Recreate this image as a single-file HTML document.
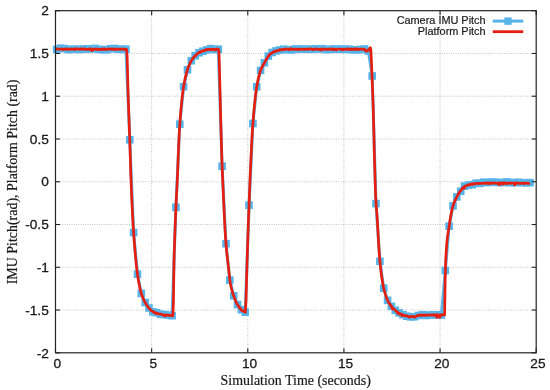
<!DOCTYPE html>
<html><head><meta charset="utf-8"><title>Pitch plot</title>
<style>
html,body{margin:0;padding:0;background:#fff;}
svg{display:block;}
.tk{font-family:"Liberation Sans",Arial,Helvetica,sans-serif;font-size:13.7px;fill:#1a1a1a;stroke:#1a1a1a;stroke-width:0.3px;}
.lg{font-family:"Liberation Sans",Arial,Helvetica,sans-serif;font-size:10.9px;fill:#1a1a1a;stroke:#1a1a1a;stroke-width:0.2px;}
.ax{font-family:"Liberation Serif","Times New Roman",Times,serif;font-size:13.95px;fill:#1a1a1a;stroke:#1a1a1a;stroke-width:0.2px;}
</style></head>
<body>
<svg width="550" height="390" viewBox="0 0 550 390">
<rect width="550" height="390" fill="#ffffff"/>
<g stroke="#b0b0b0" stroke-width="0.9" stroke-dasharray="0.8 1.5" fill="none"><line x1="151.64" y1="10.7" x2="151.64" y2="352.8"/><line x1="247.78" y1="10.7" x2="247.78" y2="352.8"/><line x1="343.92" y1="10.7" x2="343.92" y2="352.8"/><line x1="440.06" y1="10.7" x2="440.06" y2="352.8"/><line x1="55.5" y1="310.04" x2="536.2" y2="310.04"/><line x1="55.5" y1="267.28" x2="536.2" y2="267.28"/><line x1="55.5" y1="224.51" x2="536.2" y2="224.51"/><line x1="55.5" y1="181.75" x2="536.2" y2="181.75"/><line x1="55.5" y1="138.99" x2="536.2" y2="138.99"/><line x1="55.5" y1="96.23" x2="536.2" y2="96.23"/><line x1="55.5" y1="53.46" x2="536.2" y2="53.46"/></g>
<g fill="#56b4e9" stroke="none"><rect x="52.9" y="45.7" width="7.6" height="7.6"/><rect x="56.7" y="44.4" width="7.6" height="7.6"/><rect x="60.5" y="44.8" width="7.6" height="7.6"/><rect x="64.4" y="45.7" width="7.6" height="7.6"/><rect x="68.2" y="45.6" width="7.6" height="7.6"/><rect x="72.1" y="45.4" width="7.6" height="7.6"/><rect x="75.9" y="45.7" width="7.6" height="7.6"/><rect x="79.8" y="45.1" width="7.6" height="7.6"/><rect x="83.6" y="45.2" width="7.6" height="7.6"/><rect x="87.5" y="45.1" width="7.6" height="7.6"/><rect x="91.3" y="44.6" width="7.6" height="7.6"/><rect x="95.2" y="45.5" width="7.6" height="7.6"/><rect x="99.0" y="45.9" width="7.6" height="7.6"/><rect x="102.9" y="45.8" width="7.6" height="7.6"/><rect x="106.7" y="44.9" width="7.6" height="7.6"/><rect x="110.6" y="44.7" width="7.6" height="7.6"/><rect x="114.4" y="45.4" width="7.6" height="7.6"/><rect x="118.3" y="45.6" width="7.6" height="7.6"/><rect x="122.1" y="45.4" width="7.6" height="7.6"/><rect x="126.0" y="136.0" width="7.6" height="7.6"/><rect x="129.8" y="228.7" width="7.6" height="7.6"/><rect x="133.7" y="270.4" width="7.6" height="7.6"/><rect x="137.5" y="289.6" width="7.6" height="7.6"/><rect x="141.4" y="298.7" width="7.6" height="7.6"/><rect x="145.2" y="304.2" width="7.6" height="7.6"/><rect x="149.0" y="308.1" width="7.6" height="7.6"/><rect x="152.9" y="308.9" width="7.6" height="7.6"/><rect x="156.7" y="310.5" width="7.6" height="7.6"/><rect x="160.6" y="310.8" width="7.6" height="7.6"/><rect x="164.4" y="311.3" width="7.6" height="7.6"/><rect x="168.3" y="311.9" width="7.6" height="7.6"/><rect x="172.1" y="203.5" width="7.6" height="7.6"/><rect x="176.0" y="120.4" width="7.6" height="7.6"/><rect x="179.8" y="82.8" width="7.6" height="7.6"/><rect x="183.7" y="66.0" width="7.6" height="7.6"/><rect x="187.5" y="56.9" width="7.6" height="7.6"/><rect x="191.4" y="51.9" width="7.6" height="7.6"/><rect x="195.2" y="48.9" width="7.6" height="7.6"/><rect x="199.1" y="47.4" width="7.6" height="7.6"/><rect x="202.9" y="46.1" width="7.6" height="7.6"/><rect x="206.8" y="44.8" width="7.6" height="7.6"/><rect x="210.6" y="45.8" width="7.6" height="7.6"/><rect x="214.5" y="45.4" width="7.6" height="7.6"/><rect x="218.3" y="162.4" width="7.6" height="7.6"/><rect x="222.2" y="239.9" width="7.6" height="7.6"/><rect x="226.0" y="276.3" width="7.6" height="7.6"/><rect x="229.9" y="292.0" width="7.6" height="7.6"/><rect x="233.7" y="300.8" width="7.6" height="7.6"/><rect x="237.6" y="305.9" width="7.6" height="7.6"/><rect x="241.4" y="308.4" width="7.6" height="7.6"/><rect x="245.2" y="201.3" width="7.6" height="7.6"/><rect x="249.1" y="119.7" width="7.6" height="7.6"/><rect x="252.9" y="83.0" width="7.6" height="7.6"/><rect x="256.8" y="66.6" width="7.6" height="7.6"/><rect x="260.6" y="59.0" width="7.6" height="7.6"/><rect x="264.5" y="52.3" width="7.6" height="7.6"/><rect x="268.3" y="48.7" width="7.6" height="7.6"/><rect x="272.2" y="47.1" width="7.6" height="7.6"/><rect x="276.0" y="46.2" width="7.6" height="7.6"/><rect x="279.9" y="45.4" width="7.6" height="7.6"/><rect x="283.7" y="45.8" width="7.6" height="7.6"/><rect x="287.6" y="46.1" width="7.6" height="7.6"/><rect x="291.4" y="45.2" width="7.6" height="7.6"/><rect x="295.3" y="45.3" width="7.6" height="7.6"/><rect x="299.1" y="45.4" width="7.6" height="7.6"/><rect x="303.0" y="45.4" width="7.6" height="7.6"/><rect x="306.8" y="45.5" width="7.6" height="7.6"/><rect x="310.7" y="45.0" width="7.6" height="7.6"/><rect x="314.5" y="45.2" width="7.6" height="7.6"/><rect x="318.4" y="44.9" width="7.6" height="7.6"/><rect x="322.2" y="45.7" width="7.6" height="7.6"/><rect x="326.1" y="45.6" width="7.6" height="7.6"/><rect x="329.9" y="45.2" width="7.6" height="7.6"/><rect x="333.8" y="45.5" width="7.6" height="7.6"/><rect x="337.6" y="45.3" width="7.6" height="7.6"/><rect x="341.4" y="45.6" width="7.6" height="7.6"/><rect x="345.3" y="45.4" width="7.6" height="7.6"/><rect x="349.1" y="46.0" width="7.6" height="7.6"/><rect x="353.0" y="45.9" width="7.6" height="7.6"/><rect x="356.8" y="45.7" width="7.6" height="7.6"/><rect x="360.7" y="45.2" width="7.6" height="7.6"/><rect x="364.5" y="47.2" width="7.6" height="7.6"/><rect x="368.4" y="72.2" width="7.6" height="7.6"/><rect x="372.2" y="199.8" width="7.6" height="7.6"/><rect x="376.1" y="257.5" width="7.6" height="7.6"/><rect x="379.9" y="284.4" width="7.6" height="7.6"/><rect x="383.8" y="296.5" width="7.6" height="7.6"/><rect x="387.6" y="302.5" width="7.6" height="7.6"/><rect x="391.5" y="306.5" width="7.6" height="7.6"/><rect x="395.3" y="309.1" width="7.6" height="7.6"/><rect x="399.2" y="310.9" width="7.6" height="7.6"/><rect x="403.0" y="312.4" width="7.6" height="7.6"/><rect x="406.9" y="313.1" width="7.6" height="7.6"/><rect x="410.7" y="312.9" width="7.6" height="7.6"/><rect x="414.6" y="311.7" width="7.6" height="7.6"/><rect x="418.4" y="310.9" width="7.6" height="7.6"/><rect x="422.3" y="311.7" width="7.6" height="7.6"/><rect x="426.1" y="311.2" width="7.6" height="7.6"/><rect x="430.0" y="311.0" width="7.6" height="7.6"/><rect x="433.8" y="311.0" width="7.6" height="7.6"/><rect x="437.6" y="311.2" width="7.6" height="7.6"/><rect x="441.5" y="266.7" width="7.6" height="7.6"/><rect x="445.3" y="222.4" width="7.6" height="7.6"/><rect x="449.2" y="202.1" width="7.6" height="7.6"/><rect x="453.0" y="193.1" width="7.6" height="7.6"/><rect x="456.9" y="187.5" width="7.6" height="7.6"/><rect x="460.7" y="182.3" width="7.6" height="7.6"/><rect x="464.6" y="181.3" width="7.6" height="7.6"/><rect x="468.4" y="180.9" width="7.6" height="7.6"/><rect x="472.3" y="179.4" width="7.6" height="7.6"/><rect x="476.1" y="179.6" width="7.6" height="7.6"/><rect x="480.0" y="178.4" width="7.6" height="7.6"/><rect x="483.8" y="178.8" width="7.6" height="7.6"/><rect x="487.7" y="178.3" width="7.6" height="7.6"/><rect x="491.5" y="178.5" width="7.6" height="7.6"/><rect x="495.4" y="178.7" width="7.6" height="7.6"/><rect x="499.2" y="178.8" width="7.6" height="7.6"/><rect x="503.1" y="178.1" width="7.6" height="7.6"/><rect x="506.9" y="178.9" width="7.6" height="7.6"/><rect x="510.8" y="178.8" width="7.6" height="7.6"/><rect x="514.6" y="178.5" width="7.6" height="7.6"/><rect x="518.5" y="178.9" width="7.6" height="7.6"/><rect x="522.3" y="179.0" width="7.6" height="7.6"/><rect x="526.2" y="178.8" width="7.6" height="7.6"/></g>
<polyline points="56.6,49.5 60.5,48.2 64.3,48.6 68.2,49.5 72.0,49.4 75.9,49.2 79.7,49.5 83.6,48.9 87.4,49.0 91.3,48.9 95.1,48.4 99.0,49.3 102.8,49.7 106.7,49.6 110.5,48.7 114.4,48.5 118.2,49.2 122.1,49.4 125.9,49.2 129.8,139.8 133.6,232.5 137.5,274.2 141.3,293.4 145.2,302.5 149.0,308.0 152.8,311.9 156.7,312.7 160.5,314.3 164.4,314.6 168.2,315.1 172.1,315.7 175.9,207.3 179.8,124.2 183.6,86.6 187.5,69.8 191.3,60.7 195.2,55.7 199.0,52.7 202.9,51.2 206.7,49.9 210.6,48.6 214.4,49.6 218.3,49.2 222.1,166.2 226.0,243.7 229.8,280.1 233.7,295.8 237.5,304.6 241.4,309.7 245.2,312.2 249.1,205.1 252.9,123.5 256.7,86.8 260.6,70.4 264.4,62.8 268.3,56.1 272.1,52.5 276.0,50.9 279.8,50.0 283.7,49.2 287.5,49.6 291.4,49.9 295.2,49.0 299.1,49.1 302.9,49.2 306.8,49.2 310.6,49.3 314.5,48.8 318.3,49.0 322.2,48.7 326.0,49.5 329.9,49.4 333.7,49.0 337.6,49.3 341.4,49.1 345.2,49.4 349.1,49.2 352.9,49.8 356.8,49.7 360.6,49.5 364.5,49.0 368.3,51.0 372.2,76.0 376.0,203.6 379.9,261.3 383.7,288.2 387.6,300.3 391.4,306.3 395.3,310.3 399.1,312.9 403.0,314.7 406.8,316.2 410.7,316.9 414.5,316.7 418.4,315.5 422.2,314.7 426.1,315.5 429.9,315.0 433.8,314.8 437.6,314.8 441.4,315.0 445.3,270.5 449.1,226.2 453.0,205.9 456.8,196.9 460.7,191.3 464.5,186.1 468.4,185.1 472.2,184.7 476.1,183.2 479.9,183.4 483.8,182.2 487.6,182.6 491.5,182.1 495.3,182.3 499.2,182.5 503.0,182.6 506.9,181.9 510.7,182.7 514.6,182.6 518.4,182.3 522.3,182.7 526.1,182.8 530.0,182.6" fill="none" stroke="#56b4e9" stroke-width="3" stroke-linejoin="round"/>
<polyline points="55.8,49.6 56.4,49.3 57.0,49.2 57.6,48.8 58.2,49.1 58.8,49.1 59.4,49.2 60.0,49.1 60.6,49.2 61.2,49.1 61.8,48.9 62.4,49.4 63.0,49.4 63.6,49.6 64.2,49.2 64.8,49.1 65.4,49.1 66.0,48.9 66.6,49.4 67.2,49.0 67.8,48.9 68.4,49.2 69.0,49.5 69.6,49.3 70.2,49.0 70.8,49.0 71.4,49.3 72.0,49.2 72.6,49.0 73.2,49.1 73.8,49.4 74.4,49.6 75.0,48.9 75.6,49.1 76.2,49.0 76.8,48.7 77.4,49.0 78.0,49.0 78.6,49.4 79.2,49.2 79.8,48.8 80.4,49.3 81.0,49.1 81.6,48.8 82.2,49.1 82.8,49.1 83.4,49.0 84.0,49.2 84.6,48.7 85.2,49.1 85.8,49.4 86.4,49.4 87.0,49.4 87.6,49.4 88.2,49.5 88.8,49.0 89.4,49.4 90.0,48.8 90.6,49.1 91.2,48.8 91.8,50.6 92.4,49.5 93.0,49.2 93.6,49.6 94.2,49.1 94.8,49.2 95.4,49.2 96.0,49.0 96.6,49.3 97.2,49.6 97.8,49.0 98.4,49.4 99.0,49.2 99.6,49.6 100.2,49.3 100.8,49.3 101.4,49.3 102.0,49.3 102.6,48.9 103.2,49.5 103.8,48.9 104.4,49.3 105.0,49.3 105.6,49.0 106.2,49.2 106.8,49.5 107.4,49.2 108.0,49.2 108.6,48.6 109.2,49.0 109.8,49.1 110.4,49.1 111.0,49.0 111.6,49.3 112.2,49.1 112.8,49.2 113.4,49.3 114.0,49.0 114.6,49.1 115.2,49.7 115.8,49.4 116.4,48.9 117.0,49.2 117.6,49.3 118.2,49.5 118.8,49.2 119.4,49.1 120.0,49.0 120.6,49.3 121.2,49.3 121.8,49.1 122.4,49.2 123.0,49.1 123.6,49.4 124.2,49.0 124.8,49.7 125.4,49.4 126.0,49.3 126.6,49.4 127.2,57.4 127.8,83.3 128.4,101.8 129.0,118.9 129.6,135.3 130.2,154.0 130.8,174.4 131.4,189.9 132.0,203.6 132.6,215.7 133.2,226.3 133.8,235.2 134.4,243.4 135.0,250.8 135.6,257.7 136.2,263.8 136.8,269.2 137.4,273.8 138.0,277.8 138.6,281.4 139.2,284.6 139.8,287.6 140.4,290.1 141.0,292.4 141.6,294.3 142.2,296.1 142.8,297.6 143.4,299.0 144.0,300.3 144.6,301.5 145.2,302.6 145.8,303.6 146.4,304.6 147.0,305.6 147.6,306.5 148.2,307.3 148.8,308.1 149.4,308.5 150.0,309.2 150.6,309.8 151.2,310.6 151.8,310.6 152.4,311.3 153.0,311.6 153.6,311.7 154.2,312.9 154.8,312.5 155.4,312.5 156.0,313.4 156.6,313.0 157.2,313.5 157.8,313.8 158.4,313.7 159.0,313.9 159.6,314.0 160.2,314.2 160.8,314.0 161.4,314.2 162.0,314.5 162.6,314.9 163.2,314.9 163.8,315.5 164.4,315.1 165.0,315.9 165.6,315.5 166.2,314.7 166.8,315.0 167.4,315.0 168.0,315.4 168.6,315.5 169.2,315.3 169.8,315.4 170.4,315.2 171.0,315.6 171.6,315.7 172.2,315.8 172.8,315.8 173.4,303.9 174.0,261.3 174.6,241.2 175.2,225.0 175.8,210.3 176.4,197.8 177.0,186.3 177.6,172.9 178.2,157.0 178.8,142.1 179.4,130.3 180.0,121.4 180.6,113.9 181.2,107.1 181.8,100.9 182.4,95.5 183.0,90.8 183.6,86.8 184.2,83.3 184.8,80.2 185.4,77.4 186.0,74.9 186.6,72.7 187.2,70.6 187.8,68.8 188.4,67.1 189.0,65.6 189.6,64.2 190.2,62.9 190.8,61.7 191.4,60.6 192.0,59.7 192.6,58.9 193.2,57.9 193.8,57.4 194.4,56.6 195.0,55.7 195.6,55.3 196.2,55.3 196.8,54.2 197.4,53.7 198.0,53.1 198.6,52.8 199.2,52.1 199.8,52.0 200.4,52.3 201.0,51.7 201.6,51.3 202.2,51.2 202.8,51.1 203.4,50.7 204.0,50.8 204.6,50.5 205.2,50.1 205.8,50.3 206.4,49.3 207.0,49.6 207.6,49.7 208.2,49.4 208.8,49.4 209.4,49.3 210.0,49.2 210.6,49.9 211.2,49.4 211.8,49.2 212.4,49.5 213.0,49.2 213.6,49.9 214.2,49.3 214.8,49.6 215.4,50.0 216.0,49.4 216.6,49.2 217.2,48.9 217.8,49.4 218.4,49.2 219.0,52.0 219.6,75.0 220.2,98.4 220.8,121.4 221.4,143.3 222.0,163.0 222.6,177.3 223.2,191.0 223.8,204.6 224.4,217.3 225.0,228.6 225.6,238.7 226.2,246.6 226.8,252.8 227.4,258.2 228.0,263.2 228.6,268.3 229.2,274.1 229.8,280.0 230.4,283.5 231.0,286.5 231.6,289.0 232.2,291.2 232.8,293.2 233.4,295.0 234.0,296.8 234.6,298.4 235.2,299.9 235.8,301.3 236.4,302.6 237.0,303.7 237.6,304.8 238.2,305.8 238.8,306.4 239.4,307.5 240.0,308.4 240.6,308.9 241.2,310.0 241.8,310.2 242.4,310.7 243.0,310.8 243.6,311.4 244.2,311.7 244.8,311.5 245.4,312.3 246.0,300.0 246.6,279.0 247.2,258.8 247.8,239.8 248.4,222.2 249.0,206.4 249.6,190.2 250.2,175.0 250.8,161.7 251.4,149.0 252.0,137.5 252.6,127.7 253.2,119.7 253.8,112.5 254.4,106.0 255.0,100.1 255.6,94.9 256.2,90.3 256.8,86.5 257.4,83.2 258.0,80.1 258.6,77.4 259.2,75.0 259.8,72.8 260.4,71.0 261.0,69.4 261.6,68.0 262.2,66.8 262.8,65.7 263.4,64.6 264.0,63.6 264.6,62.5 265.2,61.4 265.8,60.3 266.4,59.2 267.0,58.2 267.6,57.4 268.2,56.4 268.8,55.8 269.4,54.6 270.0,54.2 270.6,53.8 271.2,53.5 271.8,53.0 272.4,52.9 273.0,52.1 273.6,51.9 274.2,51.8 274.8,51.4 275.4,51.3 276.0,50.9 276.6,51.1 277.2,50.6 277.8,50.7 278.4,50.3 279.0,50.5 279.6,49.7 280.2,50.0 280.8,49.7 281.4,49.8 282.0,49.9 282.6,49.4 283.2,49.3 283.8,49.3 284.4,49.5 285.0,48.9 285.6,49.3 286.2,49.0 286.8,49.0 287.4,49.1 288.0,49.3 288.6,49.1 289.2,49.8 289.8,49.2 290.4,49.1 291.0,48.6 291.6,49.1 292.2,49.2 292.8,49.4 293.4,49.7 294.0,49.3 294.6,49.2 295.2,49.0 295.8,49.2 296.4,49.4 297.0,49.5 297.6,49.0 298.2,49.3 298.8,49.4 299.4,49.6 300.0,49.3 300.6,49.1 301.2,49.0 301.8,49.1 302.4,49.1 303.0,49.4 303.6,49.4 304.2,49.4 304.8,49.5 305.4,49.1 306.0,49.3 306.6,49.1 307.2,49.2 307.8,49.5 308.4,49.2 309.0,48.8 309.6,49.1 310.2,49.0 310.8,48.9 311.4,49.0 312.0,49.4 312.6,49.6 313.2,49.1 313.8,49.4 314.4,49.5 315.0,48.9 315.6,49.2 316.2,49.2 316.8,49.2 317.4,48.8 318.0,49.1 318.6,49.4 319.2,49.5 319.8,49.6 320.4,49.1 321.0,50.2 321.6,49.3 322.2,48.9 322.8,49.4 323.4,49.1 324.0,49.3 324.6,49.2 325.2,49.5 325.8,49.3 326.4,49.1 327.0,49.4 327.6,49.3 328.2,49.1 328.8,49.5 329.4,49.1 330.0,49.1 330.6,49.1 331.2,48.9 331.8,49.1 332.4,49.6 333.0,49.0 333.6,49.2 334.2,49.8 334.8,49.1 335.4,49.5 336.0,49.4 336.6,49.8 337.2,49.2 337.8,49.0 338.4,49.0 339.0,49.0 339.6,49.0 340.2,49.3 340.8,49.3 341.4,49.3 342.0,49.2 342.6,49.9 343.2,49.2 343.8,49.0 344.4,49.4 345.0,49.3 345.6,49.4 346.2,49.1 346.8,48.8 347.4,49.4 348.0,49.5 348.6,48.9 349.2,49.2 349.8,49.5 350.4,49.0 351.0,49.6 351.6,49.1 352.2,49.0 352.8,49.5 353.4,49.3 354.0,49.1 354.6,49.4 355.2,48.8 355.8,49.6 356.4,49.0 357.0,49.3 357.6,49.1 358.2,49.3 358.8,49.4 359.4,49.0 360.0,49.4 360.6,49.1 361.2,49.0 361.8,49.2 362.4,49.0 363.0,49.0 363.6,49.4 364.2,49.2 364.8,49.6 365.4,50.4 366.0,51.2 366.6,51.1 367.2,50.9 367.8,50.4 368.4,49.7 369.0,50.1 369.6,48.8 370.2,47.7 370.8,49.1 371.4,60.0 372.0,76.0 372.6,90.8 373.2,106.9 373.8,130.1 374.4,156.4 375.0,177.3 375.6,195.5 376.2,206.0 376.8,212.6 377.4,221.8 378.0,232.2 378.6,242.9 379.2,252.7 379.8,260.5 380.4,266.2 381.0,271.3 381.6,276.0 382.2,280.1 382.8,283.6 383.4,286.7 384.0,289.4 384.6,291.7 385.2,293.8 385.8,295.7 386.4,297.4 387.0,298.9 387.6,300.3 388.2,301.5 388.8,302.7 389.4,303.7 390.0,304.3 390.6,305.3 391.2,306.7 391.8,306.5 392.4,309.0 393.0,308.4 393.6,308.9 394.2,309.2 394.8,310.0 395.4,310.0 396.0,310.9 396.6,311.6 397.2,311.5 397.8,313.4 398.4,312.6 399.0,314.1 399.6,313.6 400.2,313.8 400.8,313.8 401.4,314.1 402.0,315.8 402.6,315.1 403.2,314.8 403.8,315.3 404.4,315.5 405.0,315.8 405.6,315.5 406.2,316.0 406.8,315.7 407.4,316.0 408.0,316.2 408.6,316.7 409.2,317.2 409.8,316.6 410.4,316.7 411.0,316.8 411.6,316.3 412.2,316.7 412.8,316.3 413.4,316.8 414.0,316.8 414.6,317.0 415.2,317.1 415.8,316.5 416.4,316.0 417.0,315.8 417.6,315.7 418.2,315.1 418.8,315.4 419.4,315.5 420.0,315.2 420.6,315.1 421.2,314.8 421.8,315.1 422.4,315.6 423.0,315.0 423.6,314.9 424.2,315.2 424.8,315.3 425.4,315.1 426.0,315.2 426.6,315.3 427.2,315.3 427.8,315.0 428.4,315.0 429.0,314.9 429.6,315.0 430.2,315.1 430.8,315.2 431.4,314.9 432.0,315.0 432.6,314.8 433.2,315.3 433.8,314.9 434.4,315.1 435.0,314.8 435.6,315.5 436.2,314.8 436.8,317.3 437.4,315.1 438.0,315.0 438.6,314.8 439.2,315.2 439.8,317.4 440.4,315.4 441.0,314.7 441.6,314.8 442.2,315.0 442.8,314.9 443.4,314.6 444.0,315.0 444.6,315.0 445.2,277.9 445.8,258.8 446.4,248.4 447.0,241.1 447.6,236.1 448.2,232.2 448.8,228.5 449.4,224.4 450.0,220.4 450.6,216.7 451.2,213.5 451.8,210.6 452.4,208.0 453.0,205.9 453.6,204.1 454.2,202.5 454.8,201.1 455.4,199.8 456.0,198.6 456.6,197.4 457.2,196.2 457.8,195.1 458.4,194.0 459.0,193.0 459.6,192.0 460.2,191.2 460.8,190.6 461.4,189.7 462.0,189.3 462.6,187.9 463.2,188.1 463.8,187.0 464.4,188.0 465.0,186.2 465.6,186.1 466.2,185.8 466.8,185.5 467.4,185.5 468.0,185.1 468.6,184.9 469.2,184.3 469.8,184.8 470.4,184.8 471.0,184.3 471.6,183.9 472.2,183.9 472.8,184.5 473.4,183.9 474.0,183.7 474.6,183.6 475.2,183.9 475.8,183.5 476.4,183.4 477.0,183.2 477.6,183.4 478.2,183.6 478.8,183.3 479.4,183.5 480.0,183.3 480.6,183.3 481.2,183.3 481.8,183.3 482.4,183.5 483.0,183.3 483.6,183.1 484.2,183.2 484.8,183.2 485.4,183.3 486.0,183.2 486.6,183.3 487.2,182.9 487.8,183.3 488.4,183.5 489.0,182.9 489.6,183.6 490.2,183.3 490.8,183.2 491.4,182.8 492.0,183.4 492.6,183.0 493.2,183.1 493.8,183.3 494.4,183.0 495.0,183.0 495.6,182.9 496.2,183.2 496.8,183.3 497.4,183.3 498.0,183.3 498.6,183.1 499.2,184.7 499.8,183.0 500.4,183.6 501.0,183.4 501.6,182.8 502.2,183.0 502.8,184.0 503.4,182.9 504.0,183.1 504.6,183.3 505.2,183.0 505.8,183.7 506.4,183.6 507.0,183.0 507.6,183.4 508.2,183.0 508.8,183.0 509.4,183.3 510.0,183.3 510.6,183.1 511.2,183.4 511.8,182.9 512.4,183.0 513.0,183.0 513.6,183.4 514.2,183.4 514.8,184.9 515.4,182.9 516.0,183.2 516.6,183.3 517.2,182.8 517.8,183.0 518.4,183.3 519.0,183.4 519.6,183.3 520.2,183.3 520.8,183.3 521.4,183.2 522.0,183.2 522.6,183.0 523.2,183.1 523.8,183.1 524.4,183.7 525.0,183.3 525.6,183.2 526.2,183.1 526.8,183.2 527.4,183.1 528.0,183.3 528.6,183.2 529.2,183.4 529.8,183.0" fill="none" stroke="#e51e10" stroke-width="2.7" stroke-linejoin="round"/>
<g stroke="#222" stroke-width="1.1" fill="none"><line x1="55.50" y1="352.8" x2="55.50" y2="348.3"/><line x1="55.50" y1="10.7" x2="55.50" y2="15.2"/><line x1="151.64" y1="352.8" x2="151.64" y2="348.3"/><line x1="151.64" y1="10.7" x2="151.64" y2="15.2"/><line x1="247.78" y1="352.8" x2="247.78" y2="348.3"/><line x1="247.78" y1="10.7" x2="247.78" y2="15.2"/><line x1="343.92" y1="352.8" x2="343.92" y2="348.3"/><line x1="343.92" y1="10.7" x2="343.92" y2="15.2"/><line x1="440.06" y1="352.8" x2="440.06" y2="348.3"/><line x1="440.06" y1="10.7" x2="440.06" y2="15.2"/><line x1="536.20" y1="352.8" x2="536.20" y2="348.3"/><line x1="536.20" y1="10.7" x2="536.20" y2="15.2"/><line x1="55.5" y1="352.80" x2="60.0" y2="352.80"/><line x1="536.2" y1="352.80" x2="531.7" y2="352.80"/><line x1="55.5" y1="310.04" x2="60.0" y2="310.04"/><line x1="536.2" y1="310.04" x2="531.7" y2="310.04"/><line x1="55.5" y1="267.28" x2="60.0" y2="267.28"/><line x1="536.2" y1="267.28" x2="531.7" y2="267.28"/><line x1="55.5" y1="224.51" x2="60.0" y2="224.51"/><line x1="536.2" y1="224.51" x2="531.7" y2="224.51"/><line x1="55.5" y1="181.75" x2="60.0" y2="181.75"/><line x1="536.2" y1="181.75" x2="531.7" y2="181.75"/><line x1="55.5" y1="138.99" x2="60.0" y2="138.99"/><line x1="536.2" y1="138.99" x2="531.7" y2="138.99"/><line x1="55.5" y1="96.23" x2="60.0" y2="96.23"/><line x1="536.2" y1="96.23" x2="531.7" y2="96.23"/><line x1="55.5" y1="53.46" x2="60.0" y2="53.46"/><line x1="536.2" y1="53.46" x2="531.7" y2="53.46"/><line x1="55.5" y1="10.70" x2="60.0" y2="10.70"/><line x1="536.2" y1="10.70" x2="531.7" y2="10.70"/></g>
<rect x="55.5" y="10.7" width="480.70000000000005" height="342.1" fill="none" stroke="#222" stroke-width="1.2"/>
<g class="tk"><text x="57.2" y="368.2" text-anchor="middle">0</text><text x="153.3" y="368.2" text-anchor="middle">5</text><text x="249.5" y="368.2" text-anchor="middle">10</text><text x="345.6" y="368.2" text-anchor="middle">15</text><text x="441.8" y="368.2" text-anchor="middle">20</text><text x="537.9" y="368.2" text-anchor="middle">25</text><text x="48.8" y="357.5" text-anchor="end">-2</text><text x="48.8" y="314.7" text-anchor="end">-1.5</text><text x="48.8" y="272.0" text-anchor="end">-1</text><text x="48.8" y="229.2" text-anchor="end">-0.5</text><text x="48.8" y="186.4" text-anchor="end">0</text><text x="48.8" y="143.7" text-anchor="end">0.5</text><text x="48.8" y="100.9" text-anchor="end">1</text><text x="48.8" y="58.2" text-anchor="end">1.5</text><text x="48.8" y="15.4" text-anchor="end">2</text></g>
<g class="lg"><text x="485.6" y="24.4" text-anchor="end">Camera IMU Pitch</text><text x="485.6" y="35.1" text-anchor="end">Platform Pitch</text></g>
<line x1="492.7" y1="21.1" x2="523.3" y2="21.1" stroke="#56b4e9" stroke-width="3"/>
<rect x="504.3" y="17.4" width="7.4" height="7.4" fill="#56b4e9"/>
<line x1="492.7" y1="31.7" x2="523.3" y2="31.7" stroke="#e51e10" stroke-width="2.8"/>
<text class="ax" x="295.7" y="384.5" text-anchor="middle">Simulation Time (seconds)</text>
<text class="ax" transform="translate(16.9,181.9) rotate(-90)" text-anchor="middle">IMU Pitch(rad), Platform Pitch (rad)</text>
</svg>
</body></html>
